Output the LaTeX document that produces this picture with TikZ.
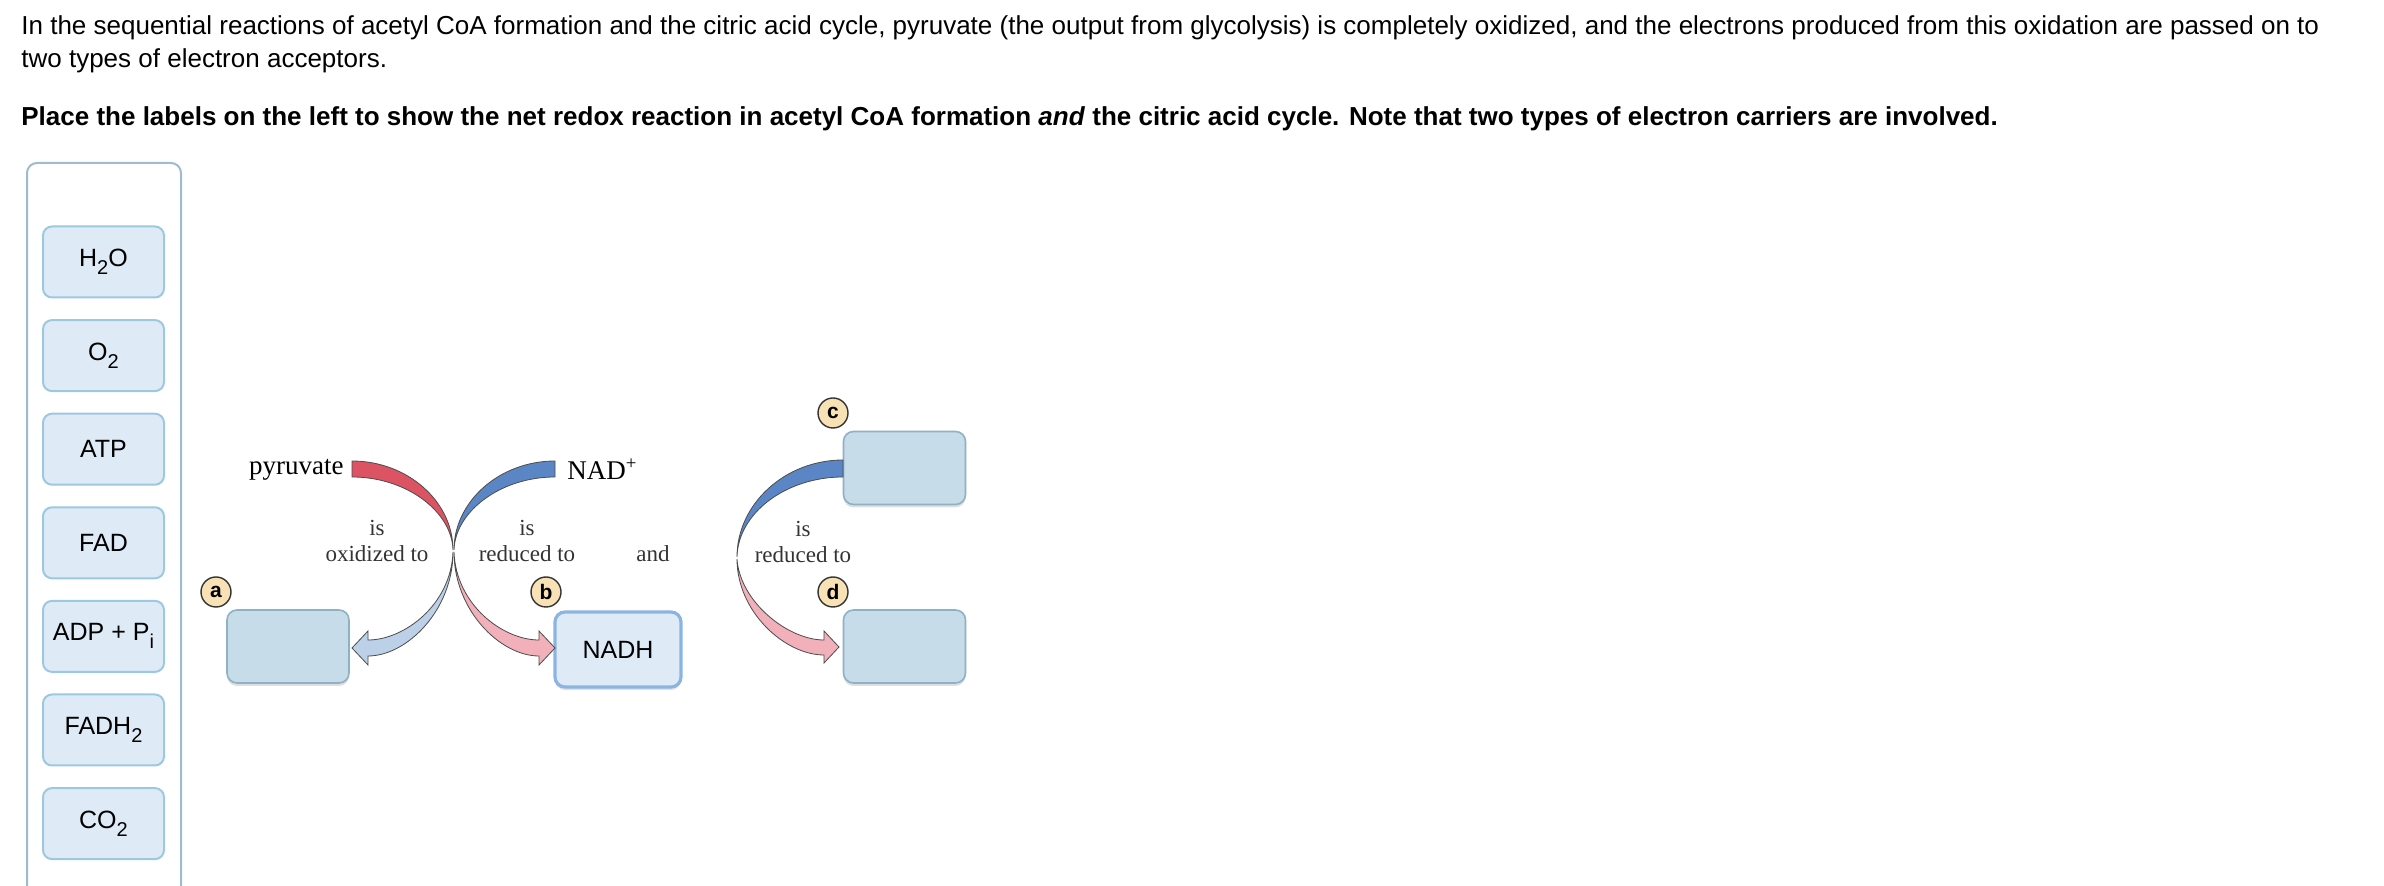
\documentclass[tikz,border=0pt]{standalone}
\usepackage{fontspec}
\setmainfont{Liberation Sans}
\newfontfamily\bookfont{Liberation Serif}
\usetikzlibrary{positioning,shadows}

\definecolor{tilefill}{HTML}{DEEBF7}
\definecolor{tileline}{HTML}{9CC8E0}
\definecolor{panelline}{HTML}{9FBBCD}
\definecolor{slotfill}{HTML}{C6DCE8}
\definecolor{slotline}{HTML}{8FB1C6}
\definecolor{tagfill}{HTML}{F7E1B5}
\definecolor{bandred}{HTML}{DC5463}
\definecolor{bandblue}{HTML}{5B86C6}
\definecolor{palered}{HTML}{F1B0BA}
\definecolor{paleblue}{HTML}{BCD0E8}

% lowered index, as in the tiles
\newcommand{\dn}[1]{\raisebox{-4pt}{\fontsize{10}{10}\selectfont #1}}

\begin{document}
\begin{tikzpicture}[
  x=0.5pt, y=-0.5pt,
  node distance=10.3pt,
  tile/.style={draw=tileline, line width=1pt, fill=tilefill, rounded corners=4.5pt, minimum width=60.5pt, minimum height=35.5pt, inner sep=0pt, font=\fontsize{12.5}{14}\selectfont},
  slot/.style={draw=slotline, line width=0.8pt, fill=slotfill, rounded corners=5pt, minimum width=61pt, minimum height=36.5pt,
    drop shadow={shadow xshift=0pt, shadow yshift=-1.5pt, opacity=0.25}},
  tag/.style={circle, draw=black!80, line width=0.7pt, fill=tagfill, minimum size=15pt, inner sep=0pt, font=\bfseries\fontsize{10.5}{10.5}\selectfont},
  word/.style={align=center, inner sep=0pt, text=black!80, font=\bookfont\fontsize{11.5}{13}\selectfont},
  species/.style={inner sep=0pt, font=\bookfont\fontsize{13.5}{15}\selectfont},
  band/.style={draw=black!70, line width=0.4pt}
]
\useasboundingbox (0,0) rectangle (2384,886);

% question
\node[anchor=base west, inner sep=0pt, font=\fontsize{13}{15}\selectfont] (intro) at (21,35)
  {In the sequential reactions of acetyl CoA formation and the citric acid cycle, pyruvate (the output from glycolysis) is completely oxidized, and the electrons produced from this oxidation are passed on to};
\node[anchor=base west, inner sep=0pt, font=\fontsize{13}{15}\selectfont] (intro2) at (21,68)
  {two types of electron acceptors.};
\node[anchor=base west, inner sep=0pt, font=\bfseries\fontsize{13}{15}\selectfont] (task) at (21,126)
  {Place the labels on the left to show the net redox reaction in acetyl CoA formation \textit{and} the citric acid cycle. Note that two types of electron carriers are involved.};

% label bank
\node[draw=panelline, line width=1pt, fill=white, rounded corners=5pt, minimum width=77pt, minimum height=398.5pt] (bank) at (104,561.5) {};
\node[tile] (water) at (103.5,262) {H\dn{2}O};
\node[tile, below=of water] (oxygen) {O\dn{2}};
\node[tile, below=of oxygen] (atp) {ATP};
\node[tile, below=of atp] (fad) {FAD};
\node[tile, below=of fad] (adp) {ADP + P\dn{i}};
\node[tile, below=of adp] (fadh) {FADH\dn{2}};
\node[tile, below=of fadh] (co) {CO\dn{2}};

% reaction
\node[species, anchor=east] (pyr) at (344,470) {pyruvate};
\node[species, anchor=west] (nad) at (567,469) {NAD\textsuperscript{+}};
\node[word] (oxid) at (377,541) {is\\oxidized to};
\node[word] (red1) at (527,541) {is\\reduced to};
\node[word] (andw) at (653,554) {and};
\node[word] (red2) at (803,542) {is\\reduced to};

\node[slot] (slota) at (288,646.5) {};
\node[slot] (slotc) at (904.5,468) {};
\node[slot] (slotd) at (904.5,646.5) {};
\node[tile, line width=1.6pt, draw=tileline!90!blue, minimum width=63pt, minimum height=37.5pt, rounded corners=5pt,
  drop shadow={shadow xshift=0pt, shadow yshift=-1.5pt, opacity=0.25}] (nadh) at (618,649.5) {NADH};

\node[tag] (taga) at (216,592) {a};
\node[tag] (tagb) at (546,592) {b};
\node[tag] (tagc) at (833,413) {c};
\node[tag] (tagd) at (833,592) {d};

% bands
\fill[bandred, band] (352,461) .. controls (407,461) and (453,501) .. (453,550)
  .. controls (452,512) and (407,477) .. (352,477) -- cycle;
\fill[bandblue, band] (555,461) .. controls (500,461) and (454,501) .. (454,550)
  .. controls (455,512) and (500,477) .. (555,477) -- cycle;
\fill[palered, band] (454,552) .. controls (454,610) and (500,656) .. (539,656) -- (539,665) -- (555,648) -- (539,631) -- (539,640)
  .. controls (503,640) and (456,605) .. (454,552) -- cycle;
\fill[paleblue, band] (453,552) .. controls (453,610) and (407,656) .. (368,656) -- (368,665) -- (352,648) -- (368,631) -- (368,640)
  .. controls (404,640) and (451,605) .. (453,552) -- cycle;

\fill[bandblue, band] (843,460) .. controls (785,460) and (737,504) .. (737,557)
  .. controls (738,513) and (786,477) .. (843,477) -- cycle;
\fill[palered, band] (737,559) .. controls (737,612) and (785,655) .. (824,655) -- (824,663) -- (839,647) -- (824,631) -- (824,640)
  .. controls (788,640) and (740,602) .. (737,559) -- cycle;
\end{tikzpicture}
\end{document}
